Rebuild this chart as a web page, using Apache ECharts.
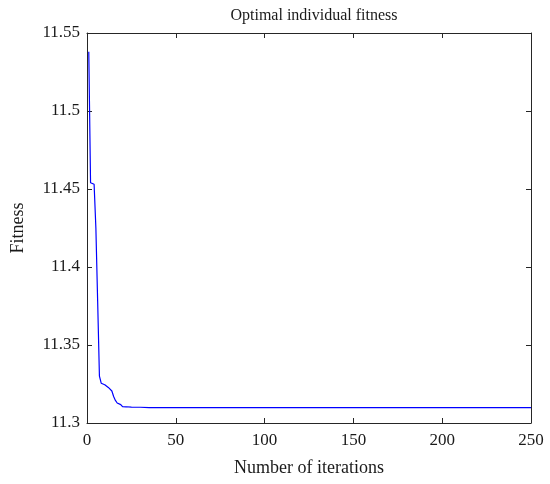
<!DOCTYPE html>
<html>
<head>
<meta charset="utf-8">
<script src="https://cdn.jsdelivr.net/npm/echarts@6/dist/echarts.min.js"></script>
<style>
html,body{margin:0;padding:0;background:#fff;}
#main{width:550px;height:484px;}
</style>
</head>
<body>
<div id="main"></div>
<script>
var iterations = [1, 2, 3, 4, 5, 6, 7, 8, 9, 10, 11, 12, 13, 14, 15, 16, 17, 18, 19, 20, 22, 25, 30, 35, 41, 250];
var fitness = [11.538, 11.454, 11.454, 11.453, 11.425, 11.378, 11.330, 11.3255, 11.3253, 11.3245, 11.3235, 11.3228, 11.3222, 11.3205, 11.317, 11.3145, 11.3128, 11.3126, 11.3118, 11.3105, 11.3104, 11.3102, 11.3101, 11.3099, 11.3098, 11.3098];
var xTicks = [0, 50, 100, 150, 200, 250];
var yTicks = [11.3, 11.35, 11.4, 11.45, 11.5, 11.55];

var font = "'Liberation Serif', 'DejaVu Serif', serif";
var axisColor = '#262626';
var points = iterations.map(function (x, i) { return [x, fitness[i]]; });

var chart = echarts.init(document.getElementById('main'), null, { renderer: 'canvas' });
var baseX = {
  type: 'value', min: 0, max: 250, interval: 50,
  axisLine: { show: true, onZero: false, lineStyle: { color: axisColor, width: 1 } },
  axisTick: { show: true, inside: true, length: 5, lineStyle: { color: axisColor } },
  splitLine: { show: false }
};
var baseY = {
  type: 'value', min: 11.3, max: 11.55, interval: 0.05,
  axisLine: { show: true, onZero: false, lineStyle: { color: axisColor, width: 1 } },
  axisTick: { show: true, inside: true, length: 5, lineStyle: { color: axisColor } },
  splitLine: { show: false }
};
chart.setOption({
  animation: false,
  backgroundColor: '#fff',
  title: {
    text: 'Optimal individual fitness',
    left: 309, top: 3, textAlign: 'center',
    textStyle: { fontFamily: font, fontSize: 16, fontWeight: 'normal', color: '#1a1a1a' }
  },
  grid: { left: 87, right: 19, top: 33, bottom: 61, containLabel: false },
  xAxis: [
    Object.assign({}, baseX, {
      position: 'bottom',
      name: 'Number of iterations', nameLocation: 'middle', nameGap: 36,
      nameTextStyle: { fontFamily: font, fontSize: 18, color: '#1a1a1a' },
      axisLabel: { show: true, margin: 9, fontFamily: font, fontSize: 17, color: '#1a1a1a',
        formatter: function (v) { return xTicks.indexOf(v) >= 0 ? String(v) : ''; } }
    }),
    Object.assign({}, baseX, { position: 'top', axisLabel: { show: false } })
  ],
  yAxis: [
    Object.assign({}, baseY, {
      position: 'left',
      name: 'Fitness', nameLocation: 'middle', nameGap: 60,
      nameTextStyle: { fontFamily: font, fontSize: 18, color: '#1a1a1a' },
      axisLabel: { show: true, margin: 7, fontFamily: font, fontSize: 17, color: '#1a1a1a',
        formatter: function (v) {
          var r = Math.round(v * 100) / 100;
          for (var i = 0; i < yTicks.length; i++) {
            if (Math.abs(yTicks[i] - r) < 1e-9) return String(yTicks[i]);
          }
          return '';
        } }
    }),
    Object.assign({}, baseY, { position: 'right', axisLabel: { show: false } })
  ],
  series: [{
    type: 'line',
    data: points,
    xAxisIndex: 0, yAxisIndex: 0,
    showSymbol: false,
    symbol: 'none',
    lineStyle: { color: '#0000ff', width: 1.2 },
    itemStyle: { color: '#0000ff' }
  }]
});
</script>
</body>
</html>
